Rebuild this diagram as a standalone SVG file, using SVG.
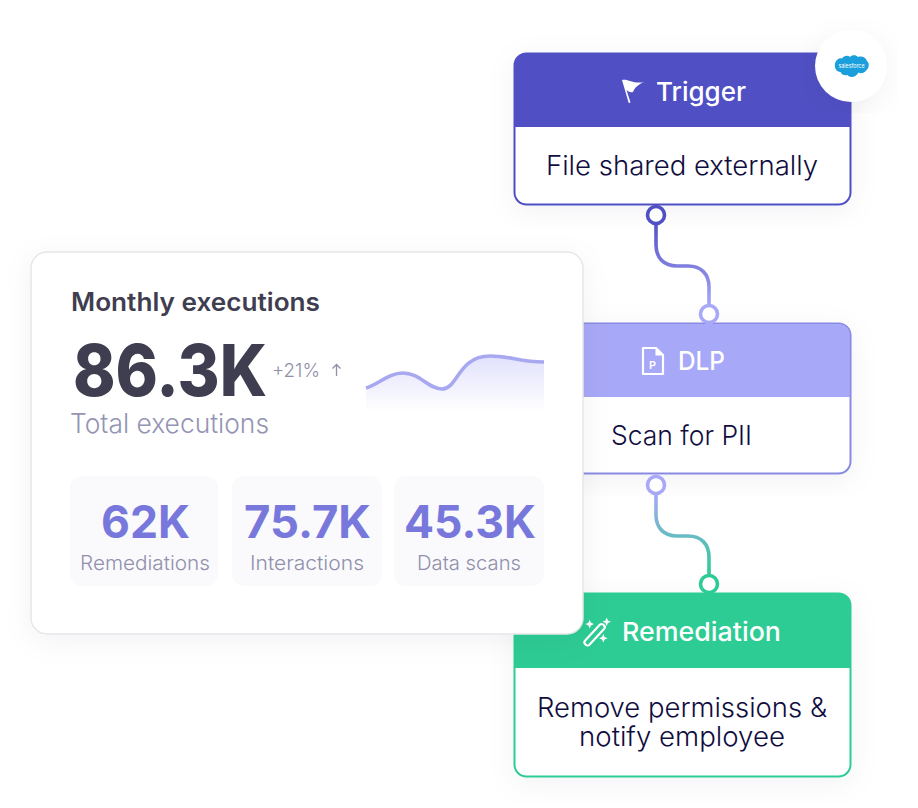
<svg xmlns="http://www.w3.org/2000/svg" width="918" height="808" viewBox="0 0 918 808">
<style>
text{font-family:"Inter","Noto Sans","Liberation Sans",sans-serif}
.head{font-size:26px;font-weight:500;fill:#fff}
.body{font-size:27px;font-weight:350;fill:#100d40}
.num{font-size:45px;font-weight:700;fill:#7878dc;text-anchor:middle}
.lab{font-size:20px;font-weight:350;fill:#9090ac}
.tile{fill:#fafafc}
.ico{fill:none;stroke:#fff;stroke-width:2.2;stroke-linejoin:round;stroke-linecap:round}
.dot{fill:#fff;stroke-width:3.6}
.link{fill:none;stroke-width:3.6}
</style>
<defs>
<filter id="soft" x="-15%" y="-15%" width="130%" height="130%"><feDropShadow dx="0" dy="6" stdDeviation="14" flood-color="#1a1a50" flood-opacity="0.05"/></filter>
<linearGradient id="g1" gradientUnits="userSpaceOnUse" x1="0" y1="222" x2="0" y2="306"><stop offset="0" stop-color="#5050c4"/><stop offset="1" stop-color="#a8a8f8"/></linearGradient>
<linearGradient id="g2" gradientUnits="userSpaceOnUse" x1="0" y1="492" x2="0" y2="576"><stop offset="0" stop-color="#a8a8f8"/><stop offset="1" stop-color="#2dcc94"/></linearGradient>
<linearGradient id="area" x1="0" y1="0" x2="0" y2="1"><stop offset="0" stop-color="#a8a8f8" stop-opacity="0.34"/><stop offset="1" stop-color="#a8a8f8" stop-opacity="0"/></linearGradient>
</defs>
<rect width="918" height="808" fill="#fff"/>

<g id="node-trigger">
<rect x="514.500" y="53.500" width="336" height="151" rx="12" fill="#fff" stroke="#5050c4" stroke-width="2" filter="url(#soft)"/>
<path d="M514 127V65a12 12 0 0 1 12-12H839a12 12 0 0 1 12 12V127Z" fill="#5050c4"/>
<path d="M622 80C628 78.500 634 84.500 644.500 82C638.500 84 634.500 88 633 92C630 93 628 91 626.500 90L630.500 102.500L628.700 103L622 80Z" fill="#fff"/>
<text class="head" x="656" y="101" textLength="90" lengthAdjust="spacingAndGlyphs">Trigger</text>
<text class="body" x="546" y="175" textLength="272" lengthAdjust="spacingAndGlyphs">File shared externally</text>
</g>

<g id="node-dlp">
<rect x="514.500" y="323.500" width="336" height="150" rx="12" fill="#fff" stroke="#8a8ae4" stroke-width="2" filter="url(#soft)"/>
<path d="M514 397V335a12 12 0 0 1 12-12H839a12 12 0 0 1 12 12V397Z" fill="#a8a8f8"/>
<path d="M523 323.500H839a11.500 11.500 0 0 1 11.500 11.500V397" fill="none" stroke="#8a8ae4" stroke-width="1.200"/>
<path class="ico" d="M643 348H656L663 355V374H643Z"/>
<path d="M655.500 348V355.500H663Z" fill="#fff"/>
<text x="649" y="369" font-size="11" font-weight="600" fill="#fff">P</text>
<text class="head" x="678" y="370" textLength="47" lengthAdjust="spacingAndGlyphs">DLP</text>
<text class="body" x="611" y="445" textLength="141" lengthAdjust="spacingAndGlyphs">Scan for PII</text>
</g>

<g id="node-remediation">
<rect x="514.500" y="593.500" width="336" height="183" rx="12" fill="#fff" stroke="#2dcc94" stroke-width="2" filter="url(#soft)"/>
<path d="M514 668V605a12 12 0 0 1 12-12H839a12 12 0 0 1 12 12V668Z" fill="#2dcc94"/>
<path class="ico" d="M585.200 640.500L599.800 624.800C600.800 623.800 602.400 623.800 603.400 624.800L604 625.400C605 626.400 605 628 604 629L589.400 644.700C588.400 645.700 586.800 645.700 585.800 644.700L585.200 644.100C584.200 643.100 584.200 641.500 585.200 640.500Z" stroke-width="1.800"/>
<path d="M589.700 619.800l1.300 3 3 1.300-3 1.300-1.300 3-1.300-3-3-1.300 3-1.300ZM606.700 617.500l1.200 3 3 1.200-3 1.200-1.200 3-1.200-3-3-1.200 3-1.200ZM603.300 634l1.300 3 3 1.300-3 1.300-1.300 3-1.300-3-3-1.300 3-1.300Z" fill="#fff"/>
<text class="head" x="622" y="641" textLength="159" lengthAdjust="spacingAndGlyphs">Remediation</text>
<text class="body" x="537" y="717" textLength="290" lengthAdjust="spacingAndGlyphs">Remove permissions &amp;</text>
<text class="body" x="579" y="746" textLength="206" lengthAdjust="spacingAndGlyphs">notify employee</text>
</g>

<g id="connectors">
<path class="link" stroke="url(#g1)" d="M656 224V245C656 258 664 266 677 266H688C701 266 709 274 709 287V305"/>
<circle class="dot" cx="656" cy="215" r="8.500" stroke="#5050c4"/>
<circle class="dot" cx="709" cy="314" r="8.500" stroke="#a8a8f8"/>
<path class="link" stroke="url(#g2)" d="M656 494V515C656 528 664 536 677 536H688C701 536 709 544 709 557V575"/>
<circle class="dot" cx="656" cy="485" r="8.500" stroke="#a8a8f8"/>
<circle class="dot" cx="709" cy="584" r="8.500" stroke="#2dcc94"/>
</g>

<g id="badge-salesforce">
<circle cx="851" cy="66" r="36" fill="#fff" filter="url(#soft)"/>
<path d="M842 58.500C844 55.500 848 55 850 57C852 54.500 856 54.500 858 57C862 55.500 866 57.500 867 61C869.500 63 869.500 68 866 70.500C864.500 73 860.500 74 858.500 72.500C856.500 77 850 78.500 847.500 75C844.500 76 841.500 74.500 840.500 72C836.500 72 834 67.500 835 64C835.500 60.500 839 57.500 842 58.500Z" fill="#1a9fdc"/>
<text x="851.500" y="68" font-size="5.500" fill="#fff" text-anchor="middle" textLength="26" lengthAdjust="spacingAndGlyphs">salesforce</text>
</g>

<g id="card-monthly">
<rect x="31" y="252" width="552" height="382" rx="16" fill="#fff" stroke="#e6e6e8" stroke-width="1.500" filter="url(#soft)"/>
<text x="71" y="311" font-size="25" font-weight="600" fill="#3f3e50" textLength="249" lengthAdjust="spacingAndGlyphs">Monthly executions</text>
<text x="73" y="396" font-size="72" font-weight="800" fill="#3f3e50" textLength="194" lengthAdjust="spacingAndGlyphs">86.3K</text>
<text x="272" y="377" font-size="19" font-weight="300" fill="#9090a8" textLength="48" lengthAdjust="spacingAndGlyphs">+21%</text>
<path d="M336.500 376V364.500M332.500 368.500L336.500 364.500L340.500 368.500" fill="none" stroke="#9090a8" stroke-width="1.300"/>
<text x="70" y="433" font-size="27" font-weight="300" fill="#9494b4" textLength="199" lengthAdjust="spacingAndGlyphs">Total executions</text>
<path d="M366 388C378 385 388 373 403 373C420 373 428 389 442 389C458 389 458 356 490 356C510 356 520 362 544 362V412H366Z" fill="url(#area)"/>
<path d="M366 388C378 385 388 373 403 373C420 373 428 389 442 389C458 389 458 356 490 356C510 356 520 362 544 362" fill="none" stroke="#a8a8f0" stroke-width="3.600"/>
<rect class="tile" x="70" y="476" width="148" height="110" rx="12"/>
<rect class="tile" x="232" y="476" width="150" height="110" rx="12"/>
<rect class="tile" x="394" y="476" width="150" height="110" rx="12"/>
<text class="num" x="145.500" y="538" textLength="89" lengthAdjust="spacingAndGlyphs">62K</text>
<text class="num" x="307.500" y="538" textLength="127" lengthAdjust="spacingAndGlyphs">75.7K</text>
<text class="num" x="470" y="538" textLength="132" lengthAdjust="spacingAndGlyphs">45.3K</text>
<text class="lab" x="80" y="570" textLength="130" lengthAdjust="spacingAndGlyphs">Remediations</text>
<text class="lab" x="250" y="570" textLength="114" lengthAdjust="spacingAndGlyphs">Interactions</text>
<text class="lab" x="417" y="570" textLength="104" lengthAdjust="spacingAndGlyphs">Data scans</text>
</g>
</svg>
